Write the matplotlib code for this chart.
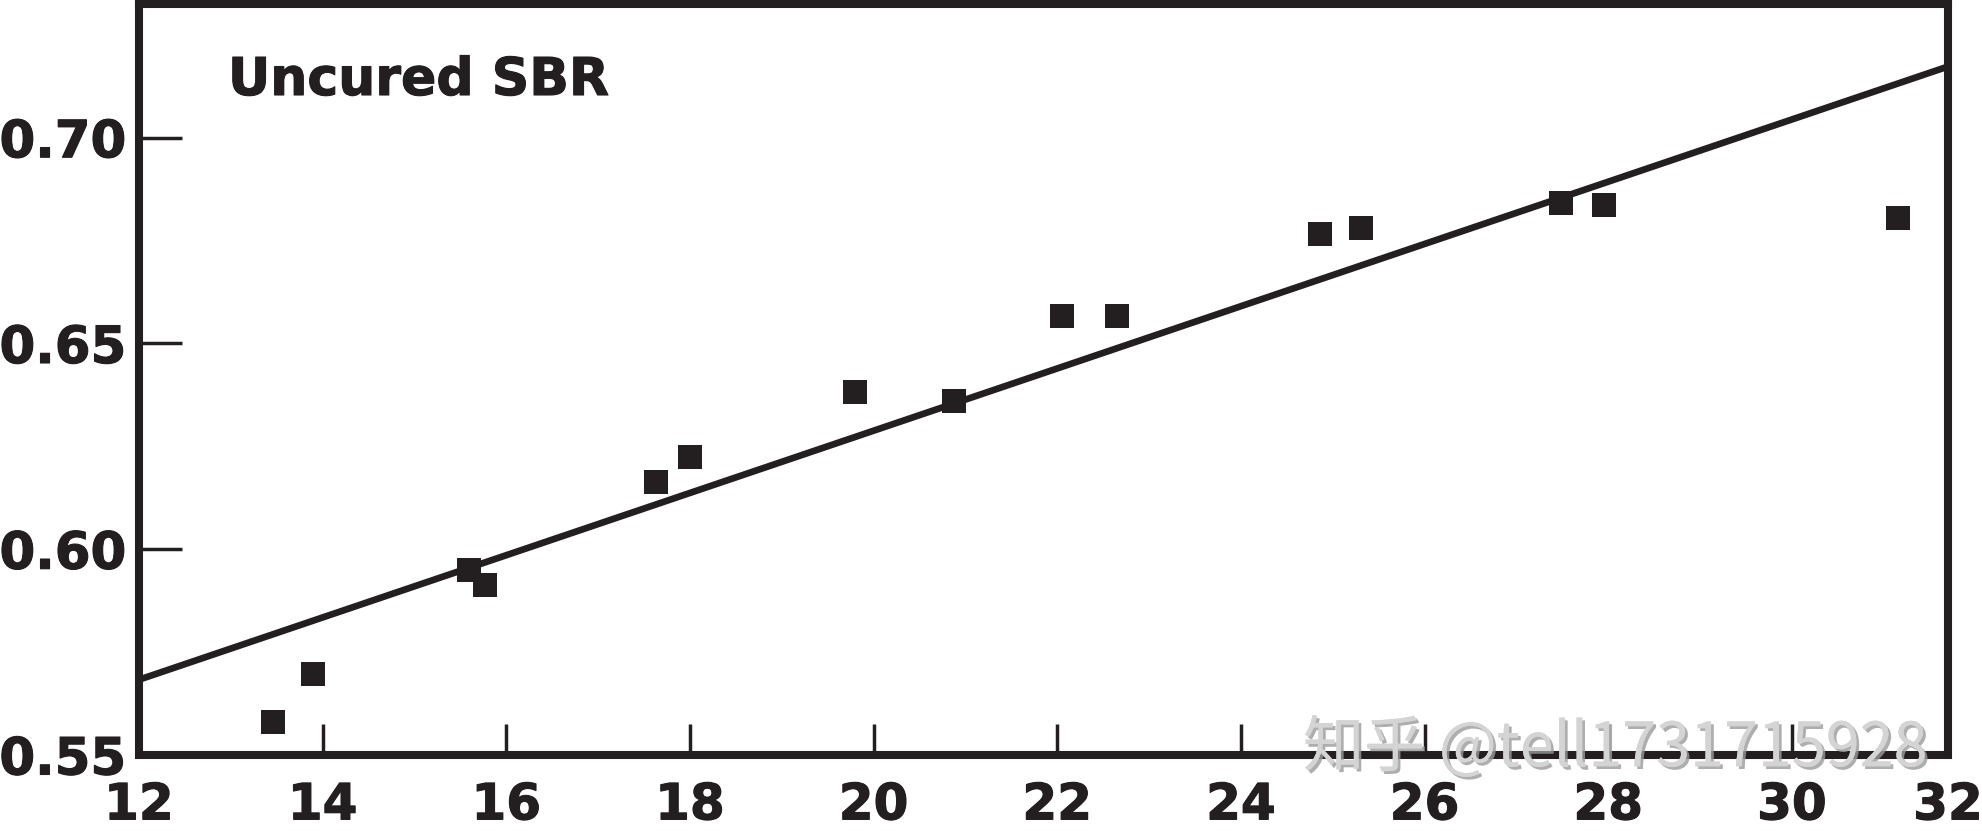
import matplotlib
matplotlib.use("Agg")
import matplotlib.pyplot as plt
import matplotlib.patheffects as pe
import numpy as np

# ---- data ----
x_data = [13.46, 13.90, 15.59, 15.77, 17.63, 18.00, 19.80, 20.88,
          22.05, 22.65, 24.86, 25.31, 27.49, 27.95, 31.16]
y_data = [0.5581, 0.5698, 0.5949, 0.5913, 0.6164, 0.6225, 0.6382, 0.6360,
          0.6566, 0.6566, 0.6765, 0.6781, 0.6842, 0.6836, 0.6805]

fit_x = [12.0, 31.7]
fit_y = [0.5683, 0.7173]

x_ticks = [12.0, 14, 16, 18, 20, 22, 24, 26, 28, 30, 31.7]
x_tick_labels = ["12", "14", "16", "18", "20", "22", "24", "26", "28", "30", "32"]
y_ticks = [0.55, 0.60, 0.65, 0.70]
y_tick_labels = ["0.55", "0.60", "0.65", "0.70"]
title_text = "Uncured SBR"
watermark = "知乎 @tell1731715928"

INK = "#231f20"
FONT = "DejaVu Sans"

fig = plt.figure(figsize=(19.83, 8.31), dpi=100)
ax = fig.add_axes([139 / 1983, 1 - 755 / 831, (1948 - 139) / 1983, (755 - 4) / 831])

ax.plot(fit_x, fit_y, color=INK, lw=4.8, solid_capstyle="butt", zorder=2)
ax.plot(x_data, y_data, linestyle="none", marker="s", markersize=17.5,
        color=INK, markeredgewidth=0, zorder=3)

ax.set_xlim(12.0, 31.7)
ax.set_ylim(0.55, 0.7325)

for s in ax.spines.values():
    s.set_linewidth(5.8)
    s.set_color(INK)

stroke = [pe.withStroke(linewidth=0.8, foreground=INK)]

ax.set_xticks(x_ticks)
ax.set_xticklabels(x_tick_labels)
ax.set_yticks(y_ticks)
ax.set_yticklabels(y_tick_labels)

ax.tick_params(axis="x", direction="in", length=22, width=2.5, color=INK,
               pad=19, labelsize=36)
ax.tick_params(axis="y", direction="in", length=31, width=2.5, color=INK,
               pad=9, labelsize=37)
for lab in ax.get_xticklabels() + ax.get_yticklabels():
    lab.set_fontfamily(FONT)
    lab.set_fontweight("bold")
    lab.set_color(INK)
    lab.set_path_effects(stroke)

fig.text(228 / 1983, 1 - 95 / 831, title_text, fontsize=37.5, fontweight="bold",
         family=FONT, color=INK, ha="left", va="baseline", path_effects=stroke)

fig.text(1303 / 1983, 1 - 749 / 831, watermark, fontsize=44,
         family=["Noto Sans CJK SC", "DejaVu Sans"], color="#d4d4d4",
         ha="left", va="center",
         path_effects=[pe.withSimplePatchShadow(offset=(2, -2), shadow_rgbFace="#9a9a9a", alpha=0.8), pe.Normal()])

fig.savefig("out.png", dpi=100)
